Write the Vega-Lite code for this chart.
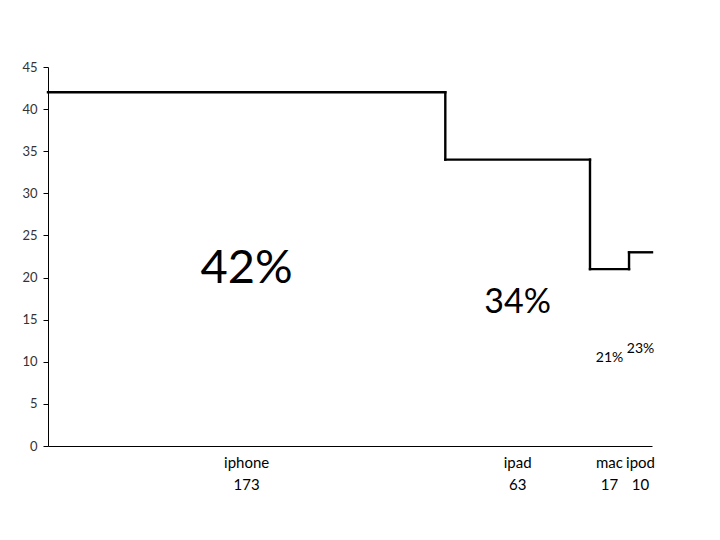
{
  "$schema": "https://vega.github.io/schema/vega-lite/v6.json",
  "autosize": {"type": "none"},
  "width": 604,
  "height": 379,
  "padding": {"left": 48, "top": 67, "right": 68, "bottom": 94},
  "background": "white",
  "config": {"view": {"stroke": null}, "font": "Lato"},
  "data": {
    "values": [
      {"product": "iphone", "revenue": 173, "margin": 42},
      {"product": "ipad", "revenue": 63, "margin": 34},
      {"product": "mac", "revenue": 17, "margin": 21},
      {"product": "ipod", "revenue": 10, "margin": 23}
    ]
  },
  "transform": [
    {"window": [{"op": "sum", "field": "revenue", "as": "end"}, {"op": "lag", "field": "margin", "as": "prev"}], "sort": [{"field": "revenue", "order": "descending"}], "frame": [null, 0]},
    {"calculate": "datum.end - datum.revenue", "as": "start"},
    {"calculate": "datum.end - datum.revenue / 2", "as": "mid"},
    {"calculate": "datum.margin / 2", "as": "half"},
    {"calculate": "datum.margin + '%'", "as": "pct"}
  ],
  "layer": [
    {
      "mark": {"type": "rule", "color": "black", "strokeWidth": 2.4, "strokeCap": "square"},
      "encoding": {
        "x": {"field": "start", "type": "quantitative", "scale": {"domain": [0, 263], "nice": false, "zero": true},
              "axis": {"title": null, "labels": false, "ticks": false, "grid": false, "domainColor": "black", "domainWidth": 1}},
        "x2": {"field": "end"},
        "y": {"field": "margin", "type": "quantitative", "scale": {"domain": [0, 45], "nice": false},
              "axis": {"title": null, "values": [0, 5, 10, 15, 20, 25, 30, 35, 40, 45], "grid": false, "domainColor": "black", "tickColor": "black", "tickSize": 5, "labelFontSize": 13, "labelColor": "#333333", "labelPadding": 6, "labelFont": "Lato"}}
      }
    },
    {
      "transform": [{"filter": "datum.prev != null"}],
      "mark": {"type": "rule", "color": "black", "strokeWidth": 2.4, "strokeCap": "square"},
      "encoding": {
        "x": {"field": "start", "type": "quantitative"},
        "y": {"field": "prev", "type": "quantitative"},
        "y2": {"field": "margin"}
      }
    },
    {
      "transform": [{"filter": "datum.product == 'iphone'"}],
      "mark": {"type": "text", "baseline": "middle", "align": "center", "color": "black", "font": "Lato", "fontSize": 47},
      "encoding": {
        "x": {"field": "mid", "type": "quantitative"},
        "y": {"field": "half", "type": "quantitative"},
        "text": {"field": "pct"}
      }
    },
    {
      "transform": [{"filter": "datum.product == 'ipad'"}],
      "mark": {"type": "text", "baseline": "middle", "align": "center", "color": "black", "font": "Lato", "fontSize": 34},
      "encoding": {
        "x": {"field": "mid", "type": "quantitative"},
        "y": {"field": "half", "type": "quantitative"},
        "text": {"field": "pct"}
      }
    },
    {
      "transform": [{"filter": "datum.product == 'mac' || datum.product == 'ipod'"}],
      "mark": {"type": "text", "baseline": "middle", "align": "center", "color": "black", "font": "Lato", "fontSize": 14},
      "encoding": {
        "x": {"field": "mid", "type": "quantitative"},
        "y": {"field": "half", "type": "quantitative"},
        "text": {"field": "pct"}
      }
    },
    {
      "mark": {"type": "text", "baseline": "middle", "align": "center", "color": "black", "fontSize": 15, "dy": 17, "font": "Lato"},
      "encoding": {
        "x": {"field": "mid", "type": "quantitative"},
        "y": {"value": "height"},
        "text": {"field": "product"}
      }
    },
    {
      "mark": {"type": "text", "baseline": "middle", "align": "center", "color": "black", "fontSize": 15, "dy": 39, "font": "Lato"},
      "encoding": {
        "x": {"field": "mid", "type": "quantitative"},
        "y": {"value": "height"},
        "text": {"field": "revenue"}
      }
    }
  ]
}
